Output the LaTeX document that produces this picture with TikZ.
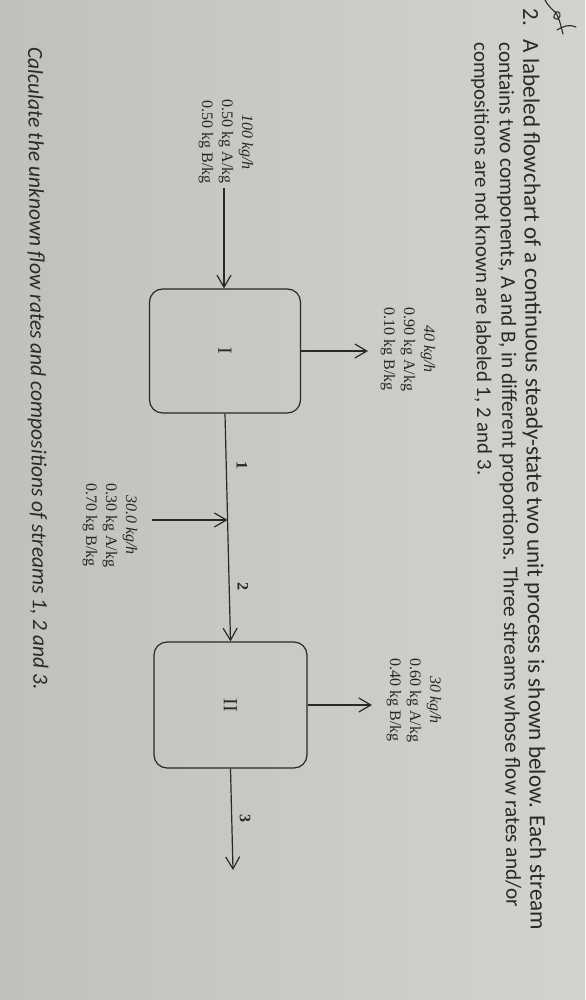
\documentclass[tikz,border=0pt]{standalone}
\usepackage{fontspec}
\usepackage{graphicx}
\setmainfont{Carlito}
\newfontfamily\diagfont{Liberation Serif}
\newcommand\unitlblfont{\diagfont\fontsize{10}{12}\selectfont}
\newcommand\fitline[2]{\resizebox{#1}{!}{\fontsize{11}{13}\selectfont #2}}
\usetikzlibrary{arrows.meta,calc}
\definecolor{paperL}{RGB}{192,192,188}
\definecolor{paperR}{RGB}{210,210,206}
\definecolor{ink}{RGB}{40,40,40}
\definecolor{txt}{RGB}{42,42,42}
\tikzset{
  bodytext/.style={rotate=-89.5, anchor=base west, inner sep=0pt, text=txt},
  unit/.style={draw=ink, line width=0.6pt, rounded corners=6.5pt, inner sep=0pt, text=ink},
  flow/.style={draw=ink, line width=0.6pt, -{Straight Barb[length=6pt,width=7pt]}},
  streamlbl/.style={rotate=-90, align=center, inner sep=0pt, text=ink, font=\diagfont\fontsize{8}{10}\selectfont},
  numlbl/.style={rotate=-90, inner sep=0pt, text=ink, font=\diagfont\bfseries\fontsize{8}{10}\selectfont}
}
\begin{document}
\begin{tikzpicture}[x=0.5pt,y=-0.5pt]
\shade[left color=paperL, right color=paperR] (0,0) rectangle (585,1000);
\useasboundingbox (0,0) rectangle (585,1000);
% body text
\node[bodytext, font=\fontsize{11.5}{13}\selectfont] (num) at (523,8) {2.};
\node[bodytext] (t1) at (523,39) {\fitline{445.5pt}{A labeled flowchart of a continuous steady-state two unit process is shown below. Each stream}};
\node[bodytext] (t2) at (499,42) {\fitline{432.5pt}{contains two components, A and B, in different proportions. Three streams whose flow rates and/or}};
\node[bodytext] (t3) at (474,42) {\fitline{216.5pt}{compositions are not known are labeled 1, 2 and 3.}};
\node[bodytext] (t4) at (28,47) {\fitline{321.5pt}{\itshape Calculate the unknown flow rates and compositions of streams 1, 2 and 3.}};
% handwritten mark
\draw[txt, line width=0.55pt, line cap=round] (545,0) .. controls (548,6) and (552,9) .. (555,12)
  .. controls (560,10) and (562,16) .. (558,19) .. controls (554,20) and (552,16) .. (556,13)
  .. controls (560,20) and (561,27) .. (563,34);
\draw[txt, line width=0.55pt, line cap=round] (557,30) .. controls (563,26) and (570,24) .. (576,27);
% units
\node[unit, minimum width=75.5pt, minimum height=62pt] (u1) at (225,351) {\rotatebox{-90}{\unitlblfont I}};
\node[unit, minimum width=76.5pt, minimum height=63pt] (u2) at (230.5,705) {\rotatebox{-90}{\unitlblfont II}};
% streams
\coordinate (f0) at (224,188);
\draw[flow] (f0) -- (f0 |- u1.north);
\coordinate (o1) at (368,351);
\draw[flow] (u1.east) -- (o1);
\draw[flow] (u1.south) -- (u2.north);
\coordinate (m1) at ($(u1.south)!0.467!(u2.north)$);
\coordinate (s0) at ($(m1)+(-76,0)$);
\draw[flow] (s0) -- (m1);
\coordinate (o2) at (372,705);
\draw[flow] (u2.east) -- (o2);
\coordinate (o3) at (233,870);
\draw[flow] (u2.south) -- (o3);
% stream labels
\node[streamlbl] (l0) at (226,142) {\textit{100 kg/h}\\0.50 kg A/kg\\0.50 kg B/kg};
\node[streamlbl] (l1) at (408,349) {\textit{40 kg/h}\\0.90 kg A/kg\\0.10 kg B/kg};
\node[streamlbl] (l2) at (110,525) {\textit{30.0 kg/h}\\0.30 kg A/kg\\0.70 kg B/kg};
\node[streamlbl] (l3) at (414,700) {\textit{30 kg/h}\\0.60 kg A/kg\\0.40 kg B/kg};
\node[numlbl] (n1) at (242,465) {1};
\node[numlbl] (n2) at (243,586) {2};
\node[numlbl] (n3) at (245,818) {3};
\end{tikzpicture}
\end{document}
